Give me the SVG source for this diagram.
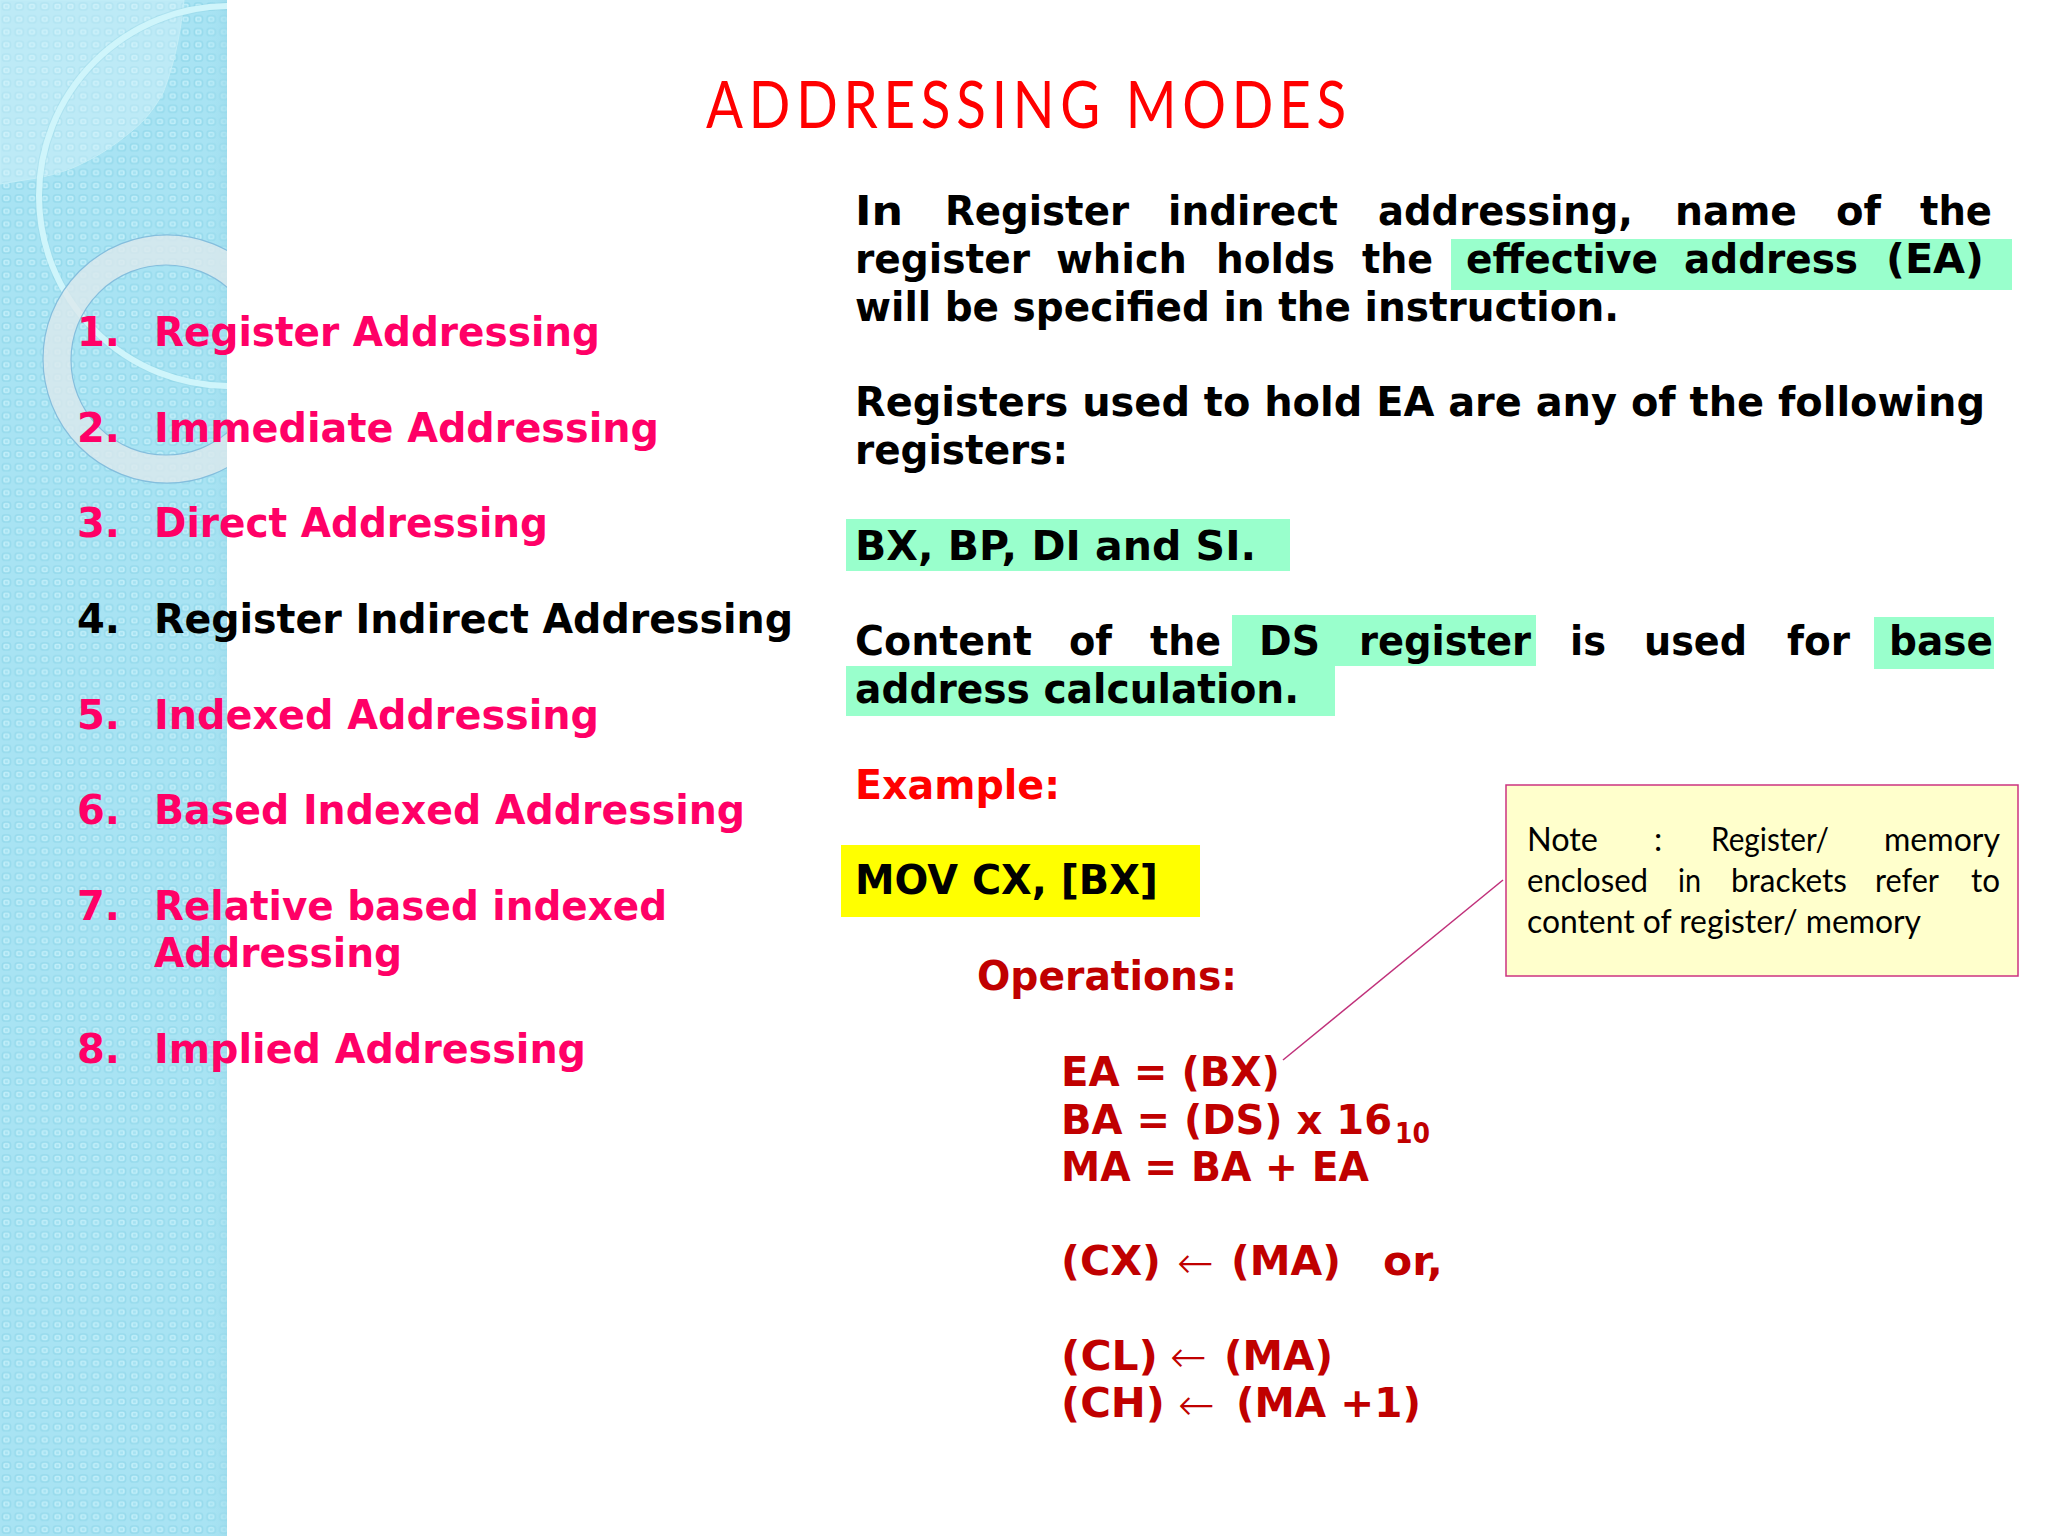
<svg xmlns="http://www.w3.org/2000/svg" width="2048" height="1536" viewBox="0 0 2048 1536">
<style>
text{font-family:"DejaVu Sans","Liberation Sans",sans-serif;font-weight:700;font-size:40px}
.pk{fill:#FF0066}.bk{fill:#000}.dr{fill:#C00000}.rd{fill:#FF0000}
.hl{fill:#99FFCC}
.note{font-family:"Lato","Noto Sans",sans-serif;font-weight:400;font-size:33px;fill:#000}
.ar{font-weight:200;font-size:44px;fill:#C00000}
</style>
<defs>
<pattern id="tile" width="12.8" height="12.8" patternUnits="userSpaceOnUse">
<rect width="12.8" height="12.8" fill="#A8E3F3"/>
<rect x="2.4" y="3" width="8" height="6.8" rx="2.5" fill="#C0EEF9" stroke="#96DAEC" stroke-width="1.6"/>
<rect x="5" y="5.2" width="2.8" height="2.4" fill="#A2E0F1"/>
</pattern>
<linearGradient id="edge" x1="0" x2="1" y1="0" y2="0"><stop offset="0" stop-color="#A8E4F3" stop-opacity="0"/><stop offset="1" stop-color="#9AD9EA" stop-opacity=".6"/></linearGradient>
<clipPath id="side"><rect width="227" height="1536"/></clipPath>
</defs>
<g id="background" clip-path="url(#side)">
<rect width="227" height="1536" fill="url(#tile)"/>
<rect x="205" width="22" height="1536" fill="url(#edge)"/>
<path d="M0 0H184C180 40 172 70 163 93C152 112 145 120 133 130C115 145 100 155 83 163C70 170 55 174 43 177L0 184Z" fill="#E4F8FC" fill-opacity=".36" stroke="#C4EEF7" stroke-width="1"/>
<circle cx="229" cy="196" r="190" fill="none" stroke="#8CCFE2" stroke-width="8" stroke-opacity=".3"/>
<circle cx="229" cy="196" r="190" fill="none" stroke="#CFF5FB" stroke-width="6"/>
<path fill-rule="evenodd" d="M43 359a124 124 0 1 0 248 0a124 124 0 1 0-248 0ZM71 360a95 95 0 1 0 190 0a95 95 0 1 0-190 0Z" fill="#DCE8EC" fill-opacity=".8" stroke="#84BEDD" stroke-width="1.2"/>
</g>
<text id="title" x="706" y="128" textLength="646" lengthAdjust="spacingAndGlyphs" style="font-family:'Lato','Noto Sans',sans-serif;font-weight:400;font-size:66px;letter-spacing:7px;fill:#F00">ADDRESSING MODES</text>
<g id="menu">
<text class="pk" x="77" y="346">1.</text><text class="pk" x="154" y="346" textLength="446" lengthAdjust="spacingAndGlyphs">Register Addressing</text>
<text class="pk" x="77" y="442">2.</text><text class="pk" x="154" y="442" textLength="505" lengthAdjust="spacingAndGlyphs">Immediate Addressing</text>
<text class="pk" x="77" y="537">3.</text><text class="pk" x="154" y="537" textLength="394" lengthAdjust="spacingAndGlyphs">Direct Addressing</text>
<text class="bk" x="77" y="633">4.</text><text class="bk" x="154" y="633" textLength="639" lengthAdjust="spacingAndGlyphs">Register Indirect Addressing</text>
<text class="pk" x="77" y="729">5.</text><text class="pk" x="154" y="729" textLength="445" lengthAdjust="spacingAndGlyphs">Indexed Addressing</text>
<text class="pk" x="77" y="824">6.</text><text class="pk" x="154" y="824" textLength="591" lengthAdjust="spacingAndGlyphs">Based Indexed Addressing</text>
<text class="pk" x="77" y="920">7.</text><text class="pk" x="154" y="920" textLength="513" lengthAdjust="spacingAndGlyphs">Relative based indexed</text>
<text class="pk" x="154" y="967" textLength="248" lengthAdjust="spacingAndGlyphs">Addressing</text>
<text class="pk" x="77" y="1063">8.</text><text class="pk" x="154" y="1063" textLength="432" lengthAdjust="spacingAndGlyphs">Implied Addressing</text>
</g>
<g id="highlights">
<rect class="hl" x="1451" y="239" width="561" height="51"/>
<rect class="hl" x="846" y="519" width="444" height="52"/>
<rect class="hl" x="1232" y="615" width="304" height="51"/>
<rect class="hl" x="1874" y="617" width="120" height="52"/>
<rect class="hl" x="846" y="666" width="489" height="50"/>
<rect x="841" y="845" width="359" height="72" fill="#FFFF00"/>
</g>
<g id="body" class="bk">
<text x="855" y="225" textLength="48" lengthAdjust="spacingAndGlyphs">In</text>
<text x="945" y="225" textLength="184" lengthAdjust="spacingAndGlyphs">Register</text>
<text x="1168" y="225" textLength="170" lengthAdjust="spacingAndGlyphs">indirect</text>
<text x="1378" y="225" textLength="255" lengthAdjust="spacingAndGlyphs">addressing,</text>
<text x="1675" y="225" textLength="122" lengthAdjust="spacingAndGlyphs">name</text>
<text x="1836" y="225" textLength="45" lengthAdjust="spacingAndGlyphs">of</text>
<text x="1920" y="225" textLength="72" lengthAdjust="spacingAndGlyphs">the</text>
<text x="855" y="273" textLength="175" lengthAdjust="spacingAndGlyphs">register</text>
<text x="1056" y="273" textLength="131" lengthAdjust="spacingAndGlyphs">which</text>
<text x="1216" y="273" textLength="119" lengthAdjust="spacingAndGlyphs">holds</text>
<text x="1362" y="273" textLength="71" lengthAdjust="spacingAndGlyphs">the</text>
<text x="1466" y="273" textLength="192" lengthAdjust="spacingAndGlyphs">effective</text>
<text x="1684" y="273" textLength="174" lengthAdjust="spacingAndGlyphs">address</text>
<text x="1886" y="273" textLength="98" lengthAdjust="spacingAndGlyphs">(EA)</text>
<text x="855" y="321" textLength="764" lengthAdjust="spacingAndGlyphs">will be specified in the instruction.</text>
<text x="855" y="416" textLength="1130" lengthAdjust="spacingAndGlyphs">Registers used to hold EA are any of the following</text>
<text x="855" y="464" textLength="213" lengthAdjust="spacingAndGlyphs">registers:</text>
<text x="855" y="560" textLength="401" lengthAdjust="spacingAndGlyphs">BX, BP, DI and SI.</text>
<text x="855" y="655" textLength="177" lengthAdjust="spacingAndGlyphs">Content</text>
<text x="1069" y="655" textLength="43" lengthAdjust="spacingAndGlyphs">of</text>
<text x="1150" y="655" textLength="71" lengthAdjust="spacingAndGlyphs">the</text>
<text x="1259" y="655" textLength="61" lengthAdjust="spacingAndGlyphs">DS</text>
<text x="1359" y="655" textLength="172" lengthAdjust="spacingAndGlyphs">register</text>
<text x="1570" y="655" textLength="36" lengthAdjust="spacingAndGlyphs">is</text>
<text x="1644" y="655" textLength="103" lengthAdjust="spacingAndGlyphs">used</text>
<text x="1787" y="655" textLength="63" lengthAdjust="spacingAndGlyphs">for</text>
<text x="1889" y="655" textLength="104" lengthAdjust="spacingAndGlyphs">base</text>
<text x="855" y="703" textLength="444" lengthAdjust="spacingAndGlyphs">address calculation.</text>
<text class="rd" x="855" y="799" textLength="205" lengthAdjust="spacingAndGlyphs">Example:</text>
<text x="855" y="894" textLength="303" lengthAdjust="spacingAndGlyphs">MOV CX, [BX]</text>
<text class="dr" x="977" y="990" textLength="260" lengthAdjust="spacingAndGlyphs">Operations:</text>
</g>
<g id="equations" class="dr">
<text x="1061" y="1086" textLength="219" lengthAdjust="spacingAndGlyphs">EA = (BX)</text>
<text x="1061" y="1134" textLength="331" lengthAdjust="spacingAndGlyphs">BA = (DS) x 16</text>
<text x="1395" y="1143" textLength="35" lengthAdjust="spacingAndGlyphs" style="font-size:28px">10</text>
<text x="1061" y="1181" textLength="308" lengthAdjust="spacingAndGlyphs">MA = BA + EA</text>
<text x="1061" y="1275" textLength="100" lengthAdjust="spacingAndGlyphs">(CX)</text>
<text class="ar" x="1177" y="1278">←</text>
<text x="1231" y="1275" textLength="110" lengthAdjust="spacingAndGlyphs">(MA)</text>
<text x="1383" y="1275" textLength="60" lengthAdjust="spacingAndGlyphs">or,</text>
<text x="1061" y="1370" textLength="97" lengthAdjust="spacingAndGlyphs">(CL)</text>
<text class="ar" x="1170" y="1372">←</text>
<text x="1224" y="1370" textLength="109" lengthAdjust="spacingAndGlyphs">(MA)</text>
<text x="1061" y="1417" textLength="104" lengthAdjust="spacingAndGlyphs">(CH)</text>
<text class="ar" x="1178" y="1420">←</text>
<text x="1236" y="1417" textLength="185" lengthAdjust="spacingAndGlyphs">(MA +1)</text>
</g>
<g id="connectors">
<line x1="1503" y1="880" x2="1283" y2="1060" stroke="#C0307A" stroke-width="1.5"/>
</g>
<g id="note">
<rect x="1506" y="785" width="512" height="191" fill="#FFFFCC" stroke="#CC3380" stroke-width="1.5"/>
<text class="note" x="1527" y="851" textLength="71" lengthAdjust="spacingAndGlyphs">Note</text>
<text class="note" x="1654" y="851">:</text>
<text class="note" x="1711" y="851" textLength="118" lengthAdjust="spacingAndGlyphs">Register/</text>
<text class="note" x="1884" y="851" textLength="116" lengthAdjust="spacingAndGlyphs">memory</text>
<text class="note" x="1527" y="892" textLength="121" lengthAdjust="spacingAndGlyphs">enclosed</text>
<text class="note" x="1678" y="892" textLength="23" lengthAdjust="spacingAndGlyphs">in</text>
<text class="note" x="1731" y="892" textLength="116" lengthAdjust="spacingAndGlyphs">brackets</text>
<text class="note" x="1875" y="892" textLength="64" lengthAdjust="spacingAndGlyphs">refer</text>
<text class="note" x="1971" y="892" textLength="29" lengthAdjust="spacingAndGlyphs">to</text>
<text class="note" x="1527" y="933" textLength="394" lengthAdjust="spacingAndGlyphs">content of register/ memory</text>
</g>
</svg>
